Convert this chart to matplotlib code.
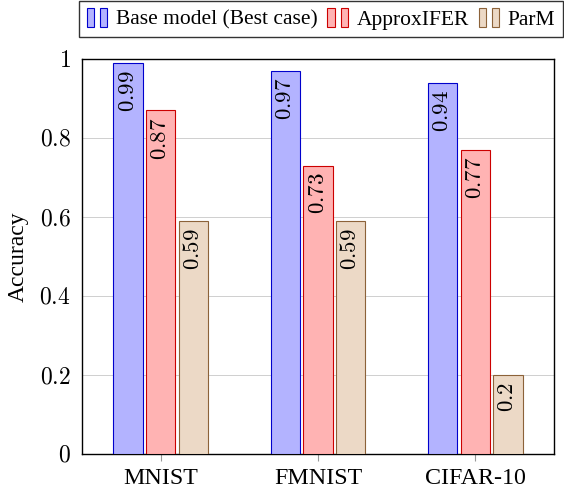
import matplotlib
matplotlib.use("Agg")
import matplotlib.pyplot as plt
from matplotlib.patches import Rectangle
from matplotlib.legend_handler import HandlerBase
import numpy as np

plt.rcParams['font.family'] = ['Liberation Serif', 'DejaVu Serif']
plt.rcParams['mathtext.fontset'] = 'cm'

# data
datasets = ["MNIST", "FMNIST", "CIFAR-10"]
series_names = ["Base model (Best case)", "ApproxIFER", "ParM"]
base_acc = [0.99, 0.97, 0.94]
approx_acc = [0.87, 0.73, 0.77]
parm_acc = [0.59, 0.59, 0.2]

fills = ["#b3b3ff", "#ffb3b3", "#ecd9c6"]
edges = ["#0000cc", "#cc0000", "#8c6239"]


# pgfplots style legend image: two little bars
class TwoBars(HandlerBase):
    def create_artists(self, legend, orig_handle, xdescent, ydescent,
                       width, height, fontsize, trans):
        w = width * 0.33
        h = height * 1.1
        y0 = -ydescent - 0.05 * height
        out = []
        for x0 in (0, width * 0.62):
            r = Rectangle((-xdescent + x0, y0), w, h,
                          facecolor=orig_handle.get_facecolor(),
                          edgecolor=orig_handle.get_edgecolor(),
                          linewidth=0.8, transform=trans)
            out.append(r)
        return out


fig = plt.figure(figsize=(5.64, 4.91), dpi=100)
ax = fig.add_axes([82 / 564, 37 / 491, 472 / 564, 395 / 491])

x = np.arange(len(datasets))
width = 0.187
offset = 0.207
all_vals = [base_acc, approx_acc, parm_acc]

handles = []
for i, vals in enumerate(all_vals):
    bars = ax.bar(x + (i - 1) * offset, vals, width, color=fills[i],
                  edgecolor=edges[i], linewidth=0.8, zorder=3,
                  label=series_names[i])
    handles.append(bars.patches[0])
    for xi, v in zip(x + (i - 1) * offset, vals):
        ax.annotate("$%g$" % v, (xi, v), xytext=(0, -5),
                    textcoords="offset points", rotation=90,
                    ha="center", va="top", fontsize=16.5, zorder=4)

ax.set_xlim(-0.5, 2.5)
ax.set_ylim(0, 1)
ax.set_xticks(x)
ax.set_xticklabels(datasets, fontsize=17.3)
ax.set_yticks([0, 0.2, 0.4, 0.6, 0.8, 1])
ax.set_yticklabels(["$%g$" % t for t in [0, 0.2, 0.4, 0.6, 0.8, 1]],
                   fontsize=17)
ax.tick_params(axis="x", direction="out", length=5, color="#999999",
               width=0.8, pad=5)
ax.tick_params(axis="y", length=0, pad=8)
ax.grid(axis="y", color="#c8c8c8", linewidth=0.6, zorder=0)
ax.set_axisbelow(True)
for s in ax.spines.values():
    s.set_linewidth(1.0)
ax.set_ylabel("Accuracy", fontsize=17, labelpad=8)

leg = fig.legend(handles, series_names, loc="upper center",
                 bbox_to_anchor=(321 / 564, 0.998), ncol=3, fontsize=15.5,
                 frameon=True, fancybox=False, edgecolor="black",
                 handlelength=1.0, handleheight=0.9, handletextpad=0.35,
                 columnspacing=0.45, borderpad=0.35, borderaxespad=0,
                 handler_map={Rectangle: TwoBars()})
leg.get_frame().set_linewidth(1.0)

fig.savefig("out.png", dpi=100)
